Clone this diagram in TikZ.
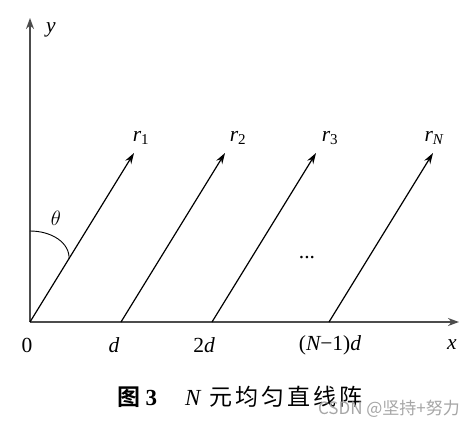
\documentclass[tikz,border=0pt]{standalone}
\usepackage{fontspec}
\setmainfont{Liberation Serif}
\newfontfamily\cjk{Noto Sans CJK SC}
\newfontfamily\cjkb{Noto Sans CJK SC}[BoldFont={* Bold}]
\usetikzlibrary{arrows.meta}
\begin{document}
\begin{tikzpicture}[x=1pt,y=-1pt,
  axis/.style={draw=black!70,line width=1.6pt,-{Stealth[length=11pt,width=8pt]}},
  ray/.style={draw=black,line width=1.2pt,-{Stealth[length=11pt,width=7pt]}},
  lab/.style={font=\fontsize{21.5}{21.5}\selectfont\itshape,inner sep=0pt}]
\useasboundingbox (0,0) rectangle (474,424);
\fill[white] (0,0) rectangle (474,424);
\coordinate (O) at (30,322);
\coordinate (Y) at (30,18);
\coordinate (X) at (459,322);
\draw[axis] (O) -- (Y);
\draw[axis] (O) -- (X);
\coordinate (s1) at (30,322);
\coordinate (s2) at (121,322);
\coordinate (s3) at (212,322);
\coordinate (sN) at (329,322);
\coordinate (e1) at (134,153);
\coordinate (e2) at (225,153);
\coordinate (e3) at (316,153);
\coordinate (eN) at (433,153);
\draw[ray] (s1) -- (e1);
\draw[ray] (s2) -- (e2);
\draw[ray] (s3) -- (e3);
\draw[ray] (sN) -- (eN);
\coordinate (a1) at (30,231);
\coordinate (a2) at (69,259);
\draw[line width=0.9pt] (a1) .. controls (52,231) and (70,243) .. (a2);
\node[lab] (ylab) at (51,30) {y};
\node[lab] (r1) at (141,138) {r\textsubscript{\upshape 1}};
\node[lab] (r2) at (238,138) {r\textsubscript{\upshape 2}};
\node[lab] (r3) at (330,138) {r\textsubscript{\upshape 3}};
\node[lab] (rN) at (434,138) {r\textsubscript{N}};
\node[lab] (th) at (56,218) {$\theta$};
\node[lab] (dots) at (307,258) {\upshape ...};
\node[lab] (l0) at (27,345) {\upshape 0};
\node[lab] (ld) at (114,345) {d};
\node[lab] (l2d) at (204,345) {\upshape 2\itshape d};
\node[lab] (lNd) at (330,345) {\upshape (\itshape N\upshape −1)\itshape d};
\node[lab] (lx) at (452,345) {x};
\node[inner sep=0pt,font=\fontsize{23}{23}\selectfont] (cap) at (240,397)
  {{\cjkb\bfseries 图}\hspace{5pt}\textbf{3}\hspace{28pt}\textit{N}\hspace{8pt}{\cjk 元\hspace{3pt}均\hspace{3pt}匀\hspace{3pt}直\hspace{3pt}线\hspace{3pt}阵}};
\node[inner sep=0pt,text=black!35,font=\fontsize{17}{17}\selectfont] (wm) at (389,409)
  {\cjk CSDN @坚持+努力};
\end{tikzpicture}
\end{document}
